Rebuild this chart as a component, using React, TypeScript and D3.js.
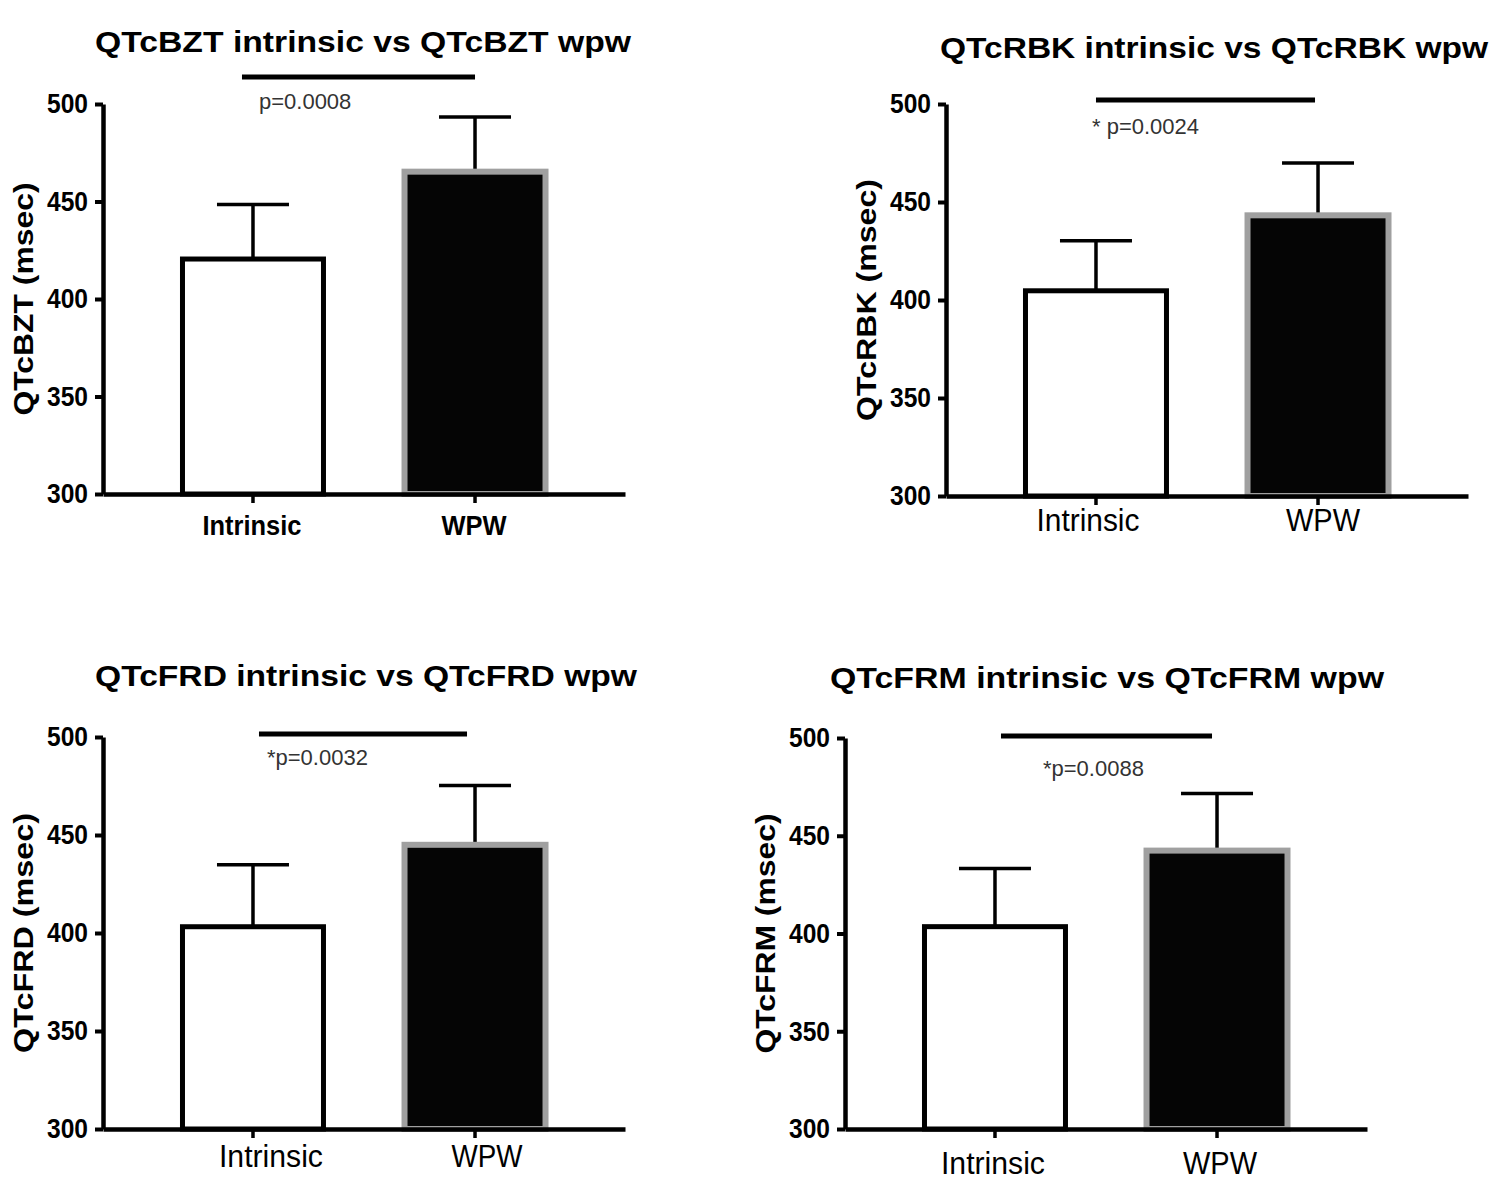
import React, { useEffect, useRef } from 'react'
import * as d3 from 'd3'

const categories = ['Intrinsic', 'WPW']
const titles = [
  'QTcBZT intrinsic vs QTcBZT wpw',
  'QTcRBK intrinsic vs QTcRBK wpw',
  'QTcFRD intrinsic vs QTcFRD wpw',
  'QTcFRM intrinsic vs QTcFRM wpw',
]
const yLabels = ['QTcBZT (msec)', 'QTcRBK (msec)', 'QTcFRD (msec)', 'QTcFRM (msec)']
const pLabels = ['p=0.0008', '* p=0.0024', '*p=0.0032', '*p=0.0088']
const intrinsicMean = [420.5, 404.7, 403.2, 403.5]
const intrinsicUpper = [448.5, 430.2, 434.8, 433.3]
const wpwMean = [465.3, 443.2, 445.0, 442.4]
const wpwUpper = [493.3, 469.9, 475.3, 471.6]
const yTicks = [300, 350, 400, 450, 500]

const FONT = '"Liberation Sans", Arial, Helvetica, sans-serif'

// placement of each panel on the page (pixels), kept apart from the data
const layouts = [
  { x0: 103, top: 104, bottom: 494, titleDx: 260, titleDy: -52, titleW: 536, labelW: 233, xBold: true, xSize: 28, xDy: 41, xW: [99, 65], xDx: [-1, -1], sigAt: 513.8, sigDx: [-11, 0], pDx: 17, pDy: 32 },
  { x0: 946, top: 104, bottom: 496, titleDx: 268, titleDy: -46, titleW: 548, labelW: 242, xBold: false, xSize: 31, xDy: 35, xW: [103, 74], xDx: [-8, 5], sigAt: 502, sigDx: [0, -3], pDx: -4, pDy: 34 },
  { x0: 103, top: 737, bottom: 1129, titleDx: 263, titleDy: -51, titleW: 542, labelW: 240, xBold: false, xSize: 31, xDy: 38, xW: [104, 71], xDx: [18, 12], sigAt: 501.5, sigDx: [6, -8], pDx: 8, pDy: 31 },
  { x0: 845, top: 738, bottom: 1129, titleDx: 262, titleDy: -50, titleW: 554, labelW: 240, xBold: false, xSize: 31, xDy: 45, xW: [104, 74], xDx: [-2, 3], sigAt: 501, sigDx: [6, -5], pDx: 42, pDy: 40 },
]

function Panel({ i }: { i: number }) {
  const L = layouts[i]
  const yRef = useRef<SVGGElement>(null)
  const xRef = useRef<SVGGElement>(null)

  const y = d3.scaleLinear().domain([300, 500]).range([L.bottom, L.top])
  const x = d3
    .scaleBand<string>()
    .domain(categories)
    .range([L.x0, L.x0 + 522])
    .paddingInner(0.365)
    .paddingOuter(0.358)

  useEffect(() => {
    const gy = d3.select(yRef.current!)
    gy.call(
      d3.axisLeft(y).tickValues(yTicks).tickSize(8).tickSizeOuter(0).tickPadding(7).tickFormat(d3.format('d')) as any
    )
    gy.select('.domain').attr('stroke', '#000').attr('stroke-width', 4.5)
    gy.selectAll('.tick line').attr('stroke', '#000').attr('stroke-width', 4)
    gy.selectAll('.tick text')
      .attr('font-family', FONT)
      .attr('font-size', 28)
      .attr('font-weight', 'bold')
      .attr('fill', '#000')
      .attr('textLength', 41)
      .attr('lengthAdjust', 'spacingAndGlyphs')

    const gx = d3.select(xRef.current!)
    gx.call(d3.axisBottom(x).tickSize(9).tickSizeOuter(0).tickFormat(() => '') as any)
    gx.select('.domain').attr('stroke', '#000').attr('stroke-width', 4.5)
    gx.selectAll('.tick line').attr('stroke', '#000').attr('stroke-width', 3.5)
  }, [])

  const means = [intrinsicMean[i], wpwMean[i]]
  const uppers = [intrinsicUpper[i], wpwUpper[i]]
  const c0 = x(categories[0])! + x.bandwidth() / 2
  const c1 = x(categories[1])! + x.bandwidth() / 2
  const sigY = y(L.sigAt)
  const midY = (L.top + L.bottom) / 2

  return (
    <g fontFamily={FONT}>
      <text
        x={L.x0 + L.titleDx}
        y={L.top + L.titleDy}
        textAnchor="middle"
        fontSize={30}
        fontWeight="bold"
        textLength={L.titleW}
        lengthAdjust="spacingAndGlyphs"
      >
        {titles[i]}
      </text>

      {categories.map((cat, k) => {
        const bx = x(cat)!
        const top = y(means[k])
        const cx = bx + x.bandwidth() / 2
        return (
          <g key={cat}>
            <line x1={cx} x2={cx} y1={top} y2={y(uppers[k])} stroke="#000" strokeWidth={3.5} />
            <line x1={cx - 36} x2={cx + 36} y1={y(uppers[k])} y2={y(uppers[k])} stroke="#000" strokeWidth={3.5} />
            <rect
              x={bx}
              y={top}
              width={x.bandwidth()}
              height={y(300) - top}
              fill={k === 0 ? '#fff' : '#050505'}
              stroke={k === 0 ? '#000' : '#a0a0a0'}
              strokeWidth={k === 0 ? 5 : 6}
            />
          </g>
        )
      })}

      <g ref={yRef} transform={`translate(${L.x0},0)`} />
      <g ref={xRef} transform={`translate(0,${L.bottom})`} />

      {categories.map((cat, k) => (
        <text
          key={cat}
          x={x(cat)! + x.bandwidth() / 2 + L.xDx[k]}
          y={L.bottom + L.xDy}
          textAnchor="middle"
          fontSize={L.xSize}
          fontWeight={L.xBold ? 'bold' : 'normal'}
          textLength={L.xW[k]}
          lengthAdjust="spacingAndGlyphs"
        >
          {cat}
        </text>
      ))}

      <text
        transform={`translate(${L.x0 - 70},${midY}) rotate(-90)`}
        textAnchor="middle"
        fontSize={27}
        fontWeight="bold"
        textLength={L.labelW}
        lengthAdjust="spacingAndGlyphs"
      >
        {yLabels[i]}
      </text>

      <line x1={c0 + L.sigDx[0]} x2={c1 + L.sigDx[1]} y1={sigY} y2={sigY} stroke="#000" strokeWidth={5} />
      <text x={c0 + L.sigDx[0] + L.pDx} y={sigY + L.pDy} fontSize={22} fill="#333">
        {pLabels[i]}
      </text>
    </g>
  )
}

export default function App() {
  return (
    <svg
      width={1500}
      height={1192}
      viewBox="0 0 1500 1192"
      style={{ position: 'absolute', left: 0, top: 0, background: '#fff', display: 'block' }}
    >
      <rect width={1500} height={1192} fill="#fff" />
      {titles.map((_, i) => (
        <Panel key={i} i={i} />
      ))}
    </svg>
  )
}
